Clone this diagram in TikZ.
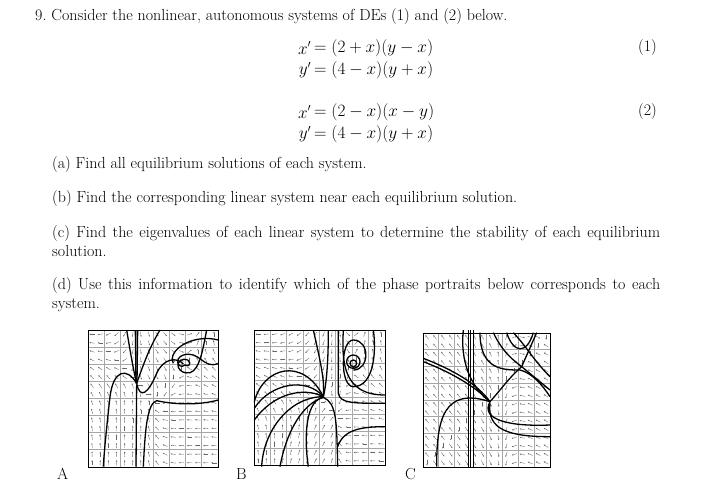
\documentclass[tikz,border=0pt]{standalone}
\usepackage{amsmath}
\usetikzlibrary{arrows.meta}
\tikzset{
 txt/.style={anchor=west,inner sep=0pt,font=\fontsize{16}{19}\selectfont},
 grd/.style={gray!70,line width=0.8pt},
 fld/.style={gray!80!black,line width=0.35pt,-{Stealth[length=1.6pt,width=1.4pt]}},
 sl/.style={line width=1.3pt,black},
 bx/.style={draw=black,line width=0.8pt}
}
\newcommand{\myfield}[6]{%
 \foreach \i in {-7.5,-6.5,...,7.5}{\foreach \j in {-7.5,-6.5,...,7.5}{%
  \pgfmathsetmacro\x{\i}\pgfmathsetmacro\y{\j}%
  \pgfmathsetmacro\uu{(#5)/50}\pgfmathsetmacro\vv{(#6)/50}%
  \pgfmathsetmacro\aa{atan2(\vv,\uu)}%
  \draw[fld] ({#1+(\i+8)/16*#3},{#2+(8-\j)/16*#4}) ++(\aa+180:2.6) -- ++(\aa:5.2);}}%
 \foreach \k in {0,...,8}{%
  \draw[grd] ({#1+\k/8*#3},#2) -- ({#1+\k/8*#3},{#2+#4});
  \draw[grd] (#1,{#2+\k/8*#4}) -- ({#1+#3},{#2+\k/8*#4});}%
 \draw[bx] (#1,#2) rectangle ({#1+#3},{#2+#4});}
\begin{document}
\begin{tikzpicture}[x=1pt,y=-1pt]
\useasboundingbox (0,0) rectangle (708,499);
\node[txt] (t9) at (35,17) {9.\ Consider the nonlinear, autonomous systems of DEs (1) and (2) below.};
\node[txt,anchor=east] (l1) at (314,48) {$x'$\,};
\node[txt] (r1) at (314,48) {$=(2+x)(y-x)$};
\node[txt,anchor=east] (l2) at (314,70) {$y'$\,};
\node[txt] (r2) at (314,70) {$=(4-x)(y+x)$};
\node[txt] (e1) at (638,48) {(1)};
\node[txt,anchor=east] (l3) at (314,112) {$x'$\,};
\node[txt] (r3) at (314,112) {$=(2-x)(x-y)$};
\node[txt,anchor=east] (l4) at (314,134) {$y'$\,};
\node[txt] (r4) at (314,134) {$=(4-x)(y+x)$};
\node[txt] (e2) at (638,112) {(2)};
\node[txt] (qa) at (52,165) {(a) Find all equilibrium solutions of each system.};
\node[txt] (qb) at (52,199) {(b) Find the corresponding linear system near each equilibrium solution.};
\node[txt,anchor=north west,text width=608pt,align=justify] (qc) at (52,225) {(c) Find the eigenvalues of each linear system to determine the stability of each equilibrium solution.};
\node[txt,anchor=north west,text width=608pt,align=justify] (qd) at (52,277) {(d) Use this information to identify which of the phase portraits below corresponds to each system.};
\node[txt] (la) at (57,474) {A};
\node[txt] (lb) at (236,474) {B};
\node[txt] (lc) at (405,474) {C};
\myfield{88}{330}{130}{137}{(2+\x)*(\y-\x)}{(4-\x)*(\y+\x)}
\myfield{254}{330}{131}{135}{(2-\x)*(\x-\y)}{(4-\x)*(\y+\x)}
\myfield{423}{333}{127}{134}{(2-\x)*(\x-\y)+0*\y}{(4-\x)*(\x-\y)}
\begin{scope}[shift={(60,320)},scale=1/3]
% A
\draw[sl] (226,30) -- (228,190);
\draw[sl] (233,30) -- (231,190);
\draw[sl] (200,30) .. controls (210,90) and (220,150) .. (230,190);
\draw[sl] (230,190) .. controls (255,120) and (270,80) .. (300,30);
\draw[sl] (230,190) .. controls (240,240) and (265,220) .. (290,160) .. controls (310,115) and (350,110) .. (370,132);
\draw[sl] (230,190) .. controls (200,140) and (160,150) .. (150,230) .. controls (140,320) and (132,400) .. (130,440);
\draw[sl] (230,195) -- (228,440);
\draw[sl] (250,440) .. controls (255,340) and (260,250) .. (290,242) .. controls (350,255) and (420,255) .. (475,240);
\draw[sl] (375,135) .. controls (395,145) and (395,115) .. (370,118) .. controls (340,125) and (355,165) .. (390,158) .. controls (420,150) and (430,80) .. (440,30);
\draw[sl] (375,135) .. controls (355,150) and (340,115) .. (370,105) .. controls (420,90) and (430,150) .. (475,130);
\draw[sl] (340,130) .. controls (320,90) and (400,40) .. (475,60);
% B
\draw[sl] (583,245) .. controls (610,140) and (730,110) .. (790,230);
\draw[sl] (583,265) .. controls (630,190) and (740,170) .. (790,230);
\draw[sl] (583,300) .. controls (640,220) and (730,200) .. (790,230);
\draw[sl] (605,440) .. controls (610,330) and (690,230) .. (790,230);
\draw[sl] (660,440) .. controls (680,330) and (730,250) .. (790,232);
\draw[sl] (745,440) .. controls (730,340) and (740,240) .. (790,232);
\draw[sl] (790,232) .. controls (830,250) and (830,300) .. (833,440);
\draw[sl] (833,380) .. controls (850,330) and (900,320) .. (975,320);
\draw[sl] (760,30) .. controls (780,120) and (795,180) .. (790,230);
\draw[sl] (805,30) .. controls (805,120) and (800,190) .. (790,230);
\draw[sl] (835,30) -- (835,220) .. controls (840,250) and (880,250) .. (975,250);
\draw[sl] (850,30) .. controls (845,130) and (850,225) .. (975,225);
\draw[sl] (880,130) circle (10) (880,125) circle (20);
\draw[sl] (880,150) .. controls (930,150) and (930,60) .. (880,60) .. controls (840,60) and (840,200) .. (880,200) .. controls (940,200) and (950,100) .. (940,30);
% C
\draw[sl] (1090,115) .. controls (1180,150) and (1250,190) .. (1290,245);
\draw[sl] (1090,125) .. controls (1180,160) and (1245,200) .. (1290,245);
\draw[sl] (1130,440) .. controls (1130,300) and (1150,200) .. (1290,245);
\draw[sl] (1225,30) -- (1225,440) (1232,30) -- (1232,440) (1240,30) -- (1240,440);
\draw[sl] (1210,30) .. controls (1200,120) and (1230,200) .. (1290,245);
\draw[sl] (1290,245) .. controls (1330,200) and (1350,170) .. (1385,140) -- (1430,38);
\draw[sl] (1300,38) .. controls (1330,100) and (1360,120) .. (1385,140) -- (1470,210);
\draw[sl] (1340,38) .. controls (1360,100) and (1400,105) .. (1420,38);
\draw[sl] (1360,38) .. controls (1400,80) and (1420,120) .. (1470,170);
\draw[sl] (1290,245) .. controls (1260,300) and (1350,320) .. (1470,315);
\draw[sl] (1290,250) .. controls (1280,330) and (1350,350) .. (1470,350);
\draw[sl] (1260,38) .. controls (1260,150) and (1330,150) .. (1380,150) .. controls (1420,160) and (1450,200) .. (1470,230);
\end{scope}
\end{tikzpicture}
\end{document}
